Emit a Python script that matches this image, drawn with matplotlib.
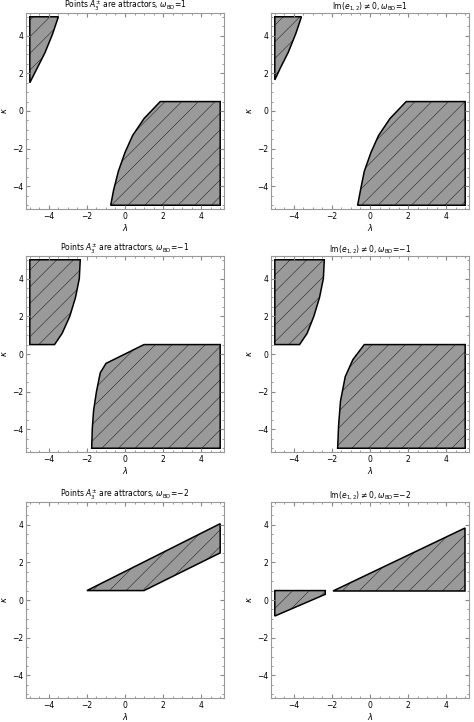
import matplotlib.pyplot as plt
from matplotlib.patches import Polygon
from matplotlib.ticker import MultipleLocator

# region vertices (lambda, kappa)
p1_top = [(-5, 5), (-3.5, 5), (-3.8, 4.1), (-4.2, 3.1), (-4.6, 2.3), (-5, 1.5)]
p1_bot = [(-0.75, -5), (5, -5), (5, 0.5), (1.85, 0.5), (1.0, -0.4), (0.4, -1.3),
          (0.0, -2.2), (-0.35, -3.2), (-0.6, -4.2)]
p2_top = [(-5, 5), (-3.6, 5), (-3.9, 4.1), (-4.3, 3.1), (-4.7, 2.3), (-5, 1.65)]
p2_bot = [(-0.65, -5), (5, -5), (5, 0.5), (1.9, 0.5), (1.05, -0.4), (0.45, -1.3),
          (0.05, -2.2), (-0.3, -3.2), (-0.5, -4.2)]
p3_top = [(-5, 5), (-2.35, 5), (-2.4, 4), (-2.6, 3), (-2.9, 2), (-3.3, 1.1),
          (-3.7, 0.5), (-5, 0.5)]
p3_bot = [(-1.75, -5), (5, -5), (5, 0.5), (1.0, 0.5), (-1.0, -0.5), (-1.3, -1.0),
          (-1.5, -2.0), (-1.65, -3.0), (-1.72, -4.0)]
p4_top = [(-5, 5), (-2.4, 5), (-2.45, 4), (-2.65, 3), (-2.95, 2), (-3.3, 1.1),
          (-3.7, 0.5), (-5, 0.5)]
p4_bot = [(-1.7, -5), (5, -5), (5, 0.5), (-0.3, 0.5), (-0.9, -0.3), (-1.3, -1.2),
          (-1.55, -2.5), (-1.65, -3.8)]
p5 = [(-2, 0.5), (1, 0.5), (5, 2.5), (5, 4.05)]
p6_left = [(-5, 0.5), (-2.35, 0.5), (-2.35, 0.3), (-5, -0.85)]
p6_right = [(-1.95, 0.5), (5, 0.5), (5, 3.8)]

titles = [r"Points $A_3^{\pm}$ are attractors, $\omega_{\rm BD}$=1",
          r"Im($e_{1,2}$)$\neq$0, $\omega_{\rm BD}$=1",
          r"Points $A_3^{\pm}$ are attractors, $\omega_{\rm BD}$=$-$1",
          r"Im($e_{1,2}$)$\neq$0, $\omega_{\rm BD}$=$-$1",
          r"Points $A_3^{\pm}$ are attractors, $\omega_{\rm BD}$=$-$2",
          r"Im($e_{1,2}$)$\neq$0, $\omega_{\rm BD}$=$-$2"]
regions = [[p1_top, p1_bot], [p2_top, p2_bot], [p3_top, p3_bot],
           [p4_top, p4_bot], [p5], [p6_left, p6_right]]

plt.rcParams['hatch.color'] = '#b0b0b0'
plt.rcParams['hatch.linewidth'] = 0.3
fig = plt.figure(figsize=(4.74, 7.22), dpi=100)
lefts = [26 / 474, 271 / 474]
bottoms = [1 - 209 / 722, 1 - 452 / 722, 1 - 698 / 722]
w, h = 198 / 474, 196 / 722

for i in range(6):
    ax = fig.add_axes([lefts[i % 2], bottoms[i // 2], w, h])
    for verts in regions[i]:
        ax.add_patch(Polygon(verts, closed=True, facecolor='#9a9a9a',
                             edgecolor='black', lw=1.1, hatch='//'))
    ax.set_xlim(-5.2, 5.2)
    ax.set_ylim(-5.2, 5.2)
    ax.xaxis.set_major_locator(MultipleLocator(2))
    ax.yaxis.set_major_locator(MultipleLocator(2))
    ax.xaxis.set_minor_locator(MultipleLocator(0.5))
    ax.yaxis.set_minor_locator(MultipleLocator(0.5))
    ax.tick_params(which='both', direction='in', top=True, right=True,
                   labelsize=5.5, color='#888888', pad=2)
    ax.tick_params(which='major', length=3)
    ax.tick_params(which='minor', length=1.5)
    for s in ax.spines.values():
        s.set_color('#999999')
    ax.set_xlabel(r"$\lambda$", fontsize=6, labelpad=1)
    ax.set_ylabel(r"$\kappa$", fontsize=6, labelpad=2, rotation=90)
    ax.set_title(titles[i], fontsize=5.5, pad=1.5)

fig.savefig("out.png", dpi=100)
